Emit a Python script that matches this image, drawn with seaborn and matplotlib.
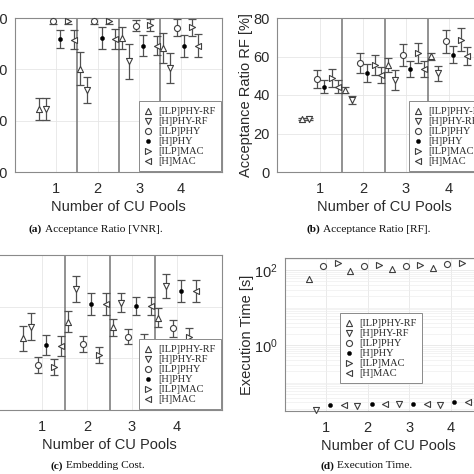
import numpy as np
import pandas as pd
import matplotlib
matplotlib.use('Agg')
import matplotlib.pyplot as plt
import matplotlib.ticker as mticker
import seaborn as sns

# ---- data ----
pools = [1, 2, 3, 4]
series = ['[ILP]PHY-RF', '[H]PHY-RF', '[ILP]PHY', '[H]PHY', '[ILP]MAC', '[H]MAC']
markers = ['^', 'v', 'o', '.', '>', '<']
offsets = [-0.42, -0.25, -0.08, 0.09, 0.27, 0.42]

# (a) acceptance ratio VNR [%]
acc_vnr = [[82.3, 90.1, 96.1, 94.2],
           [82.3, 86.0, 91.6, 90.3],
           [99.5, 99.4, 98.5, 98.1],
           [95.9, 96.1, 94.6, 94.6],
           [99.5, 99.5, 98.7, 98.2],
           [95.8, 95.9, 94.6, 94.6]]
acc_vnr_err = [[2.2, 3.2, 2.1, 2.9],
               [2.2, 2.5, 3.4, 2.9],
               [0.6, 0.6, 1.1, 1.7],
               [1.8, 2.2, 2.0, 2.1],
               [0.6, 0.6, 1.2, 1.7],
               [1.8, 2.0, 1.9, 2.2]]

# (b) acceptance ratio RF [%]
acc_rf = [[27.5, 42.7, 55.7, 60.1],
          [27.5, 37.4, 47.9, 51.4],
          [48.4, 56.6, 60.9, 67.9],
          [44.4, 51.4, 53.5, 60.9],
          [48.8, 55.7, 61.8, 68.8],
          [44.4, 50.5, 53.5, 60.4]]
acc_rf_err = [[0.5, 1.7, 3.5, 1.9],
              [0.5, 2.3, 5.2, 3.9],
              [4.8, 5.2, 5.7, 6.1],
              [3.3, 4.9, 4.3, 4.3],
              [4.5, 5.2, 5.2, 6.1],
              [3.3, 4.3, 4.3, 4.7]]

# (c) embedding cost
cost = [[1.39, 1.71, 1.60, 1.79],
        [1.61, 2.34, 2.08, 2.40],
        [0.87, 1.28, 1.42, 1.58],
        [1.26, 2.05, 2.01, 2.31],
        [0.83, 1.06, 1.32, 1.41],
        [1.24, 2.05, 2.01, 2.31]]
cost_err = [[0.24, 0.20, 0.16, 0.19],
            [0.26, 0.25, 0.19, 0.24],
            [0.15, 0.16, 0.15, 0.17],
            [0.20, 0.21, 0.18, 0.21],
            [0.16, 0.15, 0.15, 0.18],
            [0.20, 0.21, 0.18, 0.21]]

# (d) execution time [s]
exec_time = [[58, 92.4, 107, 117],
             [0.019, 0.0243, 0.027, 0.0248],
             [125, 131, 125, 145],
             [0.0248, 0.0275, 0.0275, 0.0304],
             [154, 139, 139, 158],
             [0.0248, 0.027, 0.0275, 0.030]]


def to_frame(vals, errs=None):
    rows = []
    for i, name in enumerate(series):
        for j, p in enumerate(pools):
            rows.append({'series': name, 'pools': p, 'x': p + offsets[i],
                         'value': vals[i][j],
                         'err': errs[i][j] if errs is not None else np.nan})
    return pd.DataFrame(rows)


sns.set_style('whitegrid')
plt.rcParams['font.family'] = ['Liberation Sans', 'DejaVu Sans']
plt.rcParams['mathtext.fontset'] = 'custom'
plt.rcParams['mathtext.rm'] = 'Liberation Sans'
plt.rcParams['mathtext.it'] = 'Liberation Sans:italic'

EDGE = '#404040'
TXT = '#2a2a2a'
FS = 10.5


def draw_panel(ax, df, ylabel, with_err=True, seps=True, leg_loc='lower right', leg_anchor=(1, 0)):
    for i, name in enumerate(series):
        d = df[df['series'] == name]
        if with_err:
            ax.errorbar(d['x'], d['value'], yerr=d['err'], fmt='none', ecolor='#505050',
                        elinewidth=0.9, capsize=2.6, capthick=0.9, zorder=2)
        if markers[i] == '.':
            sns.scatterplot(x='x', y='value', data=d, marker='o', s=9, color='black',
                            edgecolor='black', linewidth=0.3, label=name, ax=ax, zorder=3,
                            clip_on=False)
        else:
            sns.scatterplot(x='x', y='value', data=d, marker=markers[i], s=19, color='white',
                            edgecolor=EDGE, linewidth=0.8, label=name, ax=ax, zorder=3,
                            clip_on=False)
    if seps:
        for xs in [1.5, 2.5, 3.5]:
            ax.axvline(xs, color='#747474', lw=1.1, zorder=1)
    ax.set_xlim(0, 5)
    ax.set_xticks(pools)
    ax.set_xlabel('Number of CU Pools', fontsize=FS, color=TXT, labelpad=3)
    ax.set_ylabel(ylabel, fontsize=FS, color=TXT, labelpad=0.5)
    ax.tick_params(axis='x', labelsize=FS, colors=TXT, direction='in', length=3, pad=7)
    ax.tick_params(axis='y', labelsize=FS, colors=TXT, direction='in', length=3, pad=5)
    ax.grid(True, which='major', color='#e6e6e6', lw=0.6)
    for sp in ax.spines.values():
        sp.set_color('#8a8a8a')
        sp.set_linewidth(0.8)
    leg = ax.legend(loc=leg_loc, bbox_to_anchor=leg_anchor, frameon=True,
                    fancybox=False, framealpha=1, edgecolor='#8a8a8a', borderaxespad=0.1,
                    labelspacing=0.07, handletextpad=0.6, handlelength=0.8, borderpad=0.5,
                    prop={'family': 'Liberation Serif', 'size': 7.5})
    leg.get_frame().set_linewidth(0.7)
    leg.set_zorder(5)
    for t in leg.get_texts():
        t.set_color(TXT)
    return ax


W = 474.0
fig = plt.figure(figsize=(4.74, 4.74), dpi=100)
ax_a = fig.add_axes([15 / W, (W - 172) / W, 207 / W, 154 / W])
ax_b = fig.add_axes([277 / W, (W - 172) / W, 215 / W, 154 / W])
ax_c = fig.add_axes([-3 / W, (W - 410) / W, 225 / W, 155 / W])
ax_d = fig.add_axes([285 / W, (W - 411) / W, 207 / W, 153 / W])

draw_panel(ax_a, to_frame(acc_vnr, acc_vnr_err), 'Acceptance Ratio VNR [%]')
ax_a.set_yticks([70, 80, 90, 100])
ax_a.set_ylim(70, 100)

draw_panel(ax_b, to_frame(acc_rf, acc_rf_err), 'Acceptance Ratio RF [%]')
ax_b.set_yticks([0, 20, 40, 60, 80])
ax_b.set_ylim(0, 80)

draw_panel(ax_c, to_frame(cost, cost_err), 'Embedding Cost')
ax_c.set_yticks([0, 1, 2, 3])
ax_c.set_ylim(0, 3)

draw_panel(ax_d, to_frame(exec_time), 'Execution Time [s]', with_err=False, seps=False,
           leg_loc='center', leg_anchor=(0.464, 0.41))
ax_d.set_yscale('log')
ax_d.set_yticks([1e-2, 1, 1e2])
ax_d.yaxis.set_major_formatter(mticker.LogFormatterMathtext())
ax_d.yaxis.set_minor_locator(mticker.LogLocator(base=10, subs=np.arange(1, 10), numticks=20))
ax_d.yaxis.set_minor_formatter(mticker.NullFormatter())
ax_d.set_ylim(0.0175, 210)
ax_d.grid(True, which='minor', axis='y', color='#eeeeee', lw=0.5)
ax_d.tick_params(axis='y', which='minor', direction='in', length=1.5)

# captions under each panel
caps = [(42, 229, '(a)', 'Acceptance Ratio [VNR].'),
        (320, 229, '(b)', 'Acceptance Ratio [RF].'),
        (63, 466, '(c)', 'Embedding Cost.'),
        (334, 466, '(d)', 'Execution Time.')]
for x, y, lab, txt in caps:
    fig.text(x / W, 1 - y / W, lab, ha='right', va='center', fontsize=8.2,
             family='Liberation Serif', weight='bold', color='#111111')
    fig.text((x + 3) / W, 1 - y / W, txt, ha='left', va='center', fontsize=8.2,
             family='Liberation Serif', color='#111111')

fig.savefig('out.png', dpi=100)
